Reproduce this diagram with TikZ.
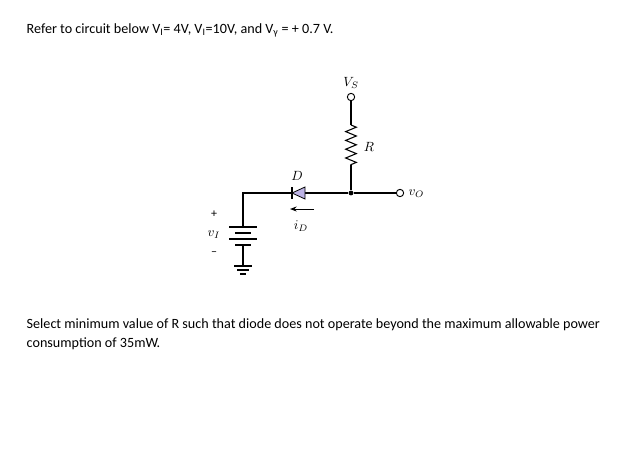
\documentclass[tikz,border=0pt]{standalone}
\usepackage{fontspec}
\setmainfont{Carlito}
\newfontfamily\serifit{Liberation Serif}
\usetikzlibrary{decorations.pathmorphing,arrows.meta}
\begin{document}
\begin{tikzpicture}[x=0.75pt,y=-0.75pt,
  wire/.style={line width=0.8pt},
  term/.style={circle,draw,line width=0.7pt,inner sep=0pt,minimum size=5.5pt,fill=white},
  lbl/.style={font=\normalsize},
  txt/.style={anchor=west,font=\fontsize{10.6}{14.5}\selectfont}]
\useasboundingbox (0,0) rectangle (630,456);
\node[txt] (t1) at (22,30) {Refer to circuit below V\textsubscript{I}= 4V, V\textsubscript{I}=10V, and V\textsubscript{γ} = + 0.7 V.};
\node[txt,align=left,anchor=north west] (t2) at (22,314) {Select minimum value of R such that diode does not operate beyond the maximum allowable power\\consumption of 35mW.};
% nodes
\node[term] (vs) at (351,97) {};
\node[lbl,above=0pt] (vsl) at (vs.north) {$V_S$};
\coordinate (r1) at (351,125);
\coordinate (r2) at (351,165);
\node[circle,fill,inner sep=1.3pt] (j) at (351,193) {};
\node[term] (vo) at (400,193) {};
\node[lbl,anchor=west] (vol) at (404,194) {$v_O$};
\coordinate (k) at (292,193);
\coordinate (a) at (305,193);
\coordinate (c) at (243,193);
\coordinate (b1) at (243,227);
\coordinate (b2) at (243,245);
\coordinate (g) at (243,266);
% wires
\draw[wire] (vs) -- (r1);
\draw[wire,decorate,decoration={zigzag,segment length=6.6pt,amplitude=4pt}] (r1) -- (r2);
\draw[wire] (r2) -- (j);
\node[lbl] (rl) at (369,147) {$R$};
\draw[wire] (j) -- (vo);
\draw[wire] (j) -- (a);
\draw[line width=0.6pt,fill={rgb,255:red,190;green,180;blue,230}] (a) ++(0,-6) -- (k) -- ++(13,6) -- cycle;
\draw[line width=1pt] (k) ++(0,-6) -- ++(0,12);
\node[lbl] (dl) at (297,176) {$D$};
\draw[wire] (k) -- (c) -- (b1);
\draw[line width=1pt] (229,227) -- (257,227);
\draw[line width=1pt] (235,233) -- (251,233);
\draw[line width=1pt] (229,239) -- (257,239);
\draw[line width=1pt] (235,245) -- (251,245);
\draw[wire] (b2) -- (g);
\draw[wire] (234,266) -- (252,266) (237,270) -- (249,270) (240,274) -- (246,274);
\node[font=\small] (pl) at (214,214) {+};
\node[lbl] (vil) at (214,235) {$v_I$};
\node[font=\small] (mi) at (214,254) {–};
\draw[-{Stealth[length=5pt]},line width=0.7pt] (314,209) -- (290,209);
\node[lbl] (idl) at (301,226) {$i_D$};
\end{tikzpicture}
\end{document}
